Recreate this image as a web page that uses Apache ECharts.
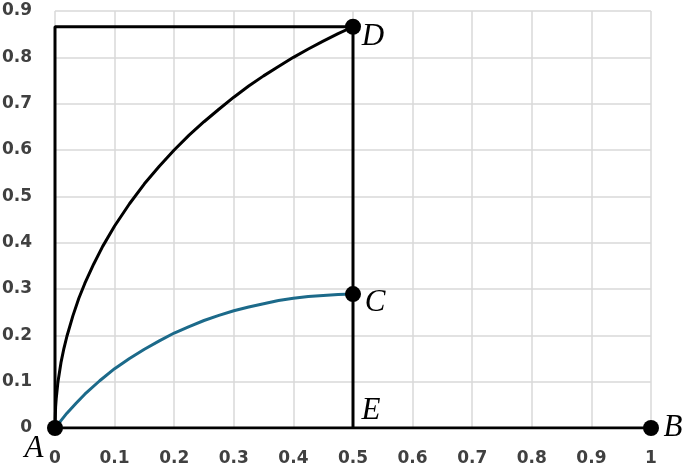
<!DOCTYPE html>
<html>
<head>
<meta charset="utf-8">
<script src="https://cdn.jsdelivr.net/npm/echarts@6/dist/echarts.min.js"></script>
<style>html,body{margin:0;padding:0;background:#fff;}#c{width:685px;height:467px;}</style>
</head>
<body>
<div id="c"></div>
<script>
var xTickLabels = ['0','0.1','0.2','0.3','0.4','0.5','0.6','0.7','0.8','0.9','1'];
var yTickLabels = ['0','0.1','0.2','0.3','0.4','0.5','0.6','0.7','0.8','0.9'];

var boxLine = [[0,0],[0,0.866],[0.5,0.866],[0.5,0]];
var baseLine = [[0,0],[1,0]];

var blackCurveX = [0, 0.001, 0.002, 0.005, 0.01, 0.015, 0.02, 0.03, 0.04, 0.05, 0.065, 0.08, 0.1, 0.125, 0.15, 0.175, 0.2, 0.225, 0.25, 0.275, 0.3, 0.325, 0.35, 0.375, 0.4, 0.425, 0.45, 0.475, 0.5];
var blackCurveY = [0, 0.045, 0.063, 0.1, 0.141, 0.172, 0.198, 0.242, 0.28, 0.312, 0.354, 0.392, 0.436, 0.484, 0.527, 0.565, 0.6, 0.632, 0.661, 0.688, 0.714, 0.738, 0.76, 0.78, 0.8, 0.818, 0.835, 0.851, 0.866];

var blueCurveX = [0, 0.01, 0.02, 0.035, 0.05, 0.075, 0.1, 0.125, 0.15, 0.175, 0.2, 0.225, 0.25, 0.275, 0.3, 0.325, 0.35, 0.375, 0.4, 0.425, 0.45, 0.475, 0.5];
var blueCurveY = [0, 0.016, 0.032, 0.053, 0.073, 0.102, 0.128, 0.15, 0.17, 0.188, 0.205, 0.219, 0.232, 0.243, 0.253, 0.261, 0.268, 0.275, 0.28, 0.284, 0.286, 0.288, 0.289];

var pointNames = ['A','B','C','D','E'];
var pointX = [0, 1, 0.5, 0.5, 0.5];
var pointY = [0, 0, 0.289, 0.866, 0];
var pointMarker = [true, true, true, true, false];
var labelOffsets = [[-21,21],[22,0],[22,9],[20,10],[18,-17]];

function zip(xs, ys){ return xs.map(function(x,i){ return [x, ys[i]]; }); }

var pointData = pointNames.map(function(n,i){
  return {
    value: [pointX[i], pointY[i]],
    symbolSize: pointMarker[i] ? 16 : 0,
    label: {
      show: true,
      formatter: n,
      position: 'inside',
      offset: labelOffsets[i],
      fontFamily: 'Liberation Serif',
      fontStyle: 'italic',
      fontSize: 31,
      color: '#000'
    }
  };
});

var lineStyleBlack = {color:'#000', width:3};

var chart = echarts.init(document.getElementById('c'));
chart.setOption({
  animation: false,
  grid: {left:55, right:34, top:11, bottom:39, containLabel:false, outerBoundsMode:'none'},
  xAxis: {
    type:'value', min:0, max:1, interval:0.1,
    axisLine:{show:false}, axisTick:{show:false},
    axisLabel:{
      margin:22, fontSize:17, fontWeight:'bold', color:'#404040', fontFamily:'DejaVu Sans',
      formatter:function(v){ return xTickLabels[Math.round(v*10)]; }
    },
    splitLine:{show:true, lineStyle:{color:'#d9d9d9', width:1.5}}
  },
  yAxis: {
    type:'value', min:0, max:0.9, interval:0.1,
    axisLine:{show:false}, axisTick:{show:false},
    axisLabel:{
      margin:23, fontSize:17, fontWeight:'bold', color:'#404040', fontFamily:'DejaVu Sans',
      formatter:function(v){ return yTickLabels[Math.round(v*10)]; }
    },
    splitLine:{show:true, lineStyle:{color:'#d9d9d9', width:1.5}}
  },
  series: [
    {type:'line', data: boxLine, symbol:'none', lineStyle: lineStyleBlack, z:3},
    {type:'line', data: baseLine, symbol:'none', lineStyle: lineStyleBlack, z:3},
    {type:'line', data: zip(blackCurveX, blackCurveY), symbol:'none', smooth:false, lineStyle: lineStyleBlack, z:3},
    {type:'line', data: zip(blueCurveX, blueCurveY), symbol:'none', smooth:false, lineStyle:{color:'#1c6a8a', width:3}, z:3},
    {type:'scatter', data: pointData, symbol:'circle', itemStyle:{color:'#000', opacity:1}, z:5}
  ]
});
</script>
</body>
</html>
